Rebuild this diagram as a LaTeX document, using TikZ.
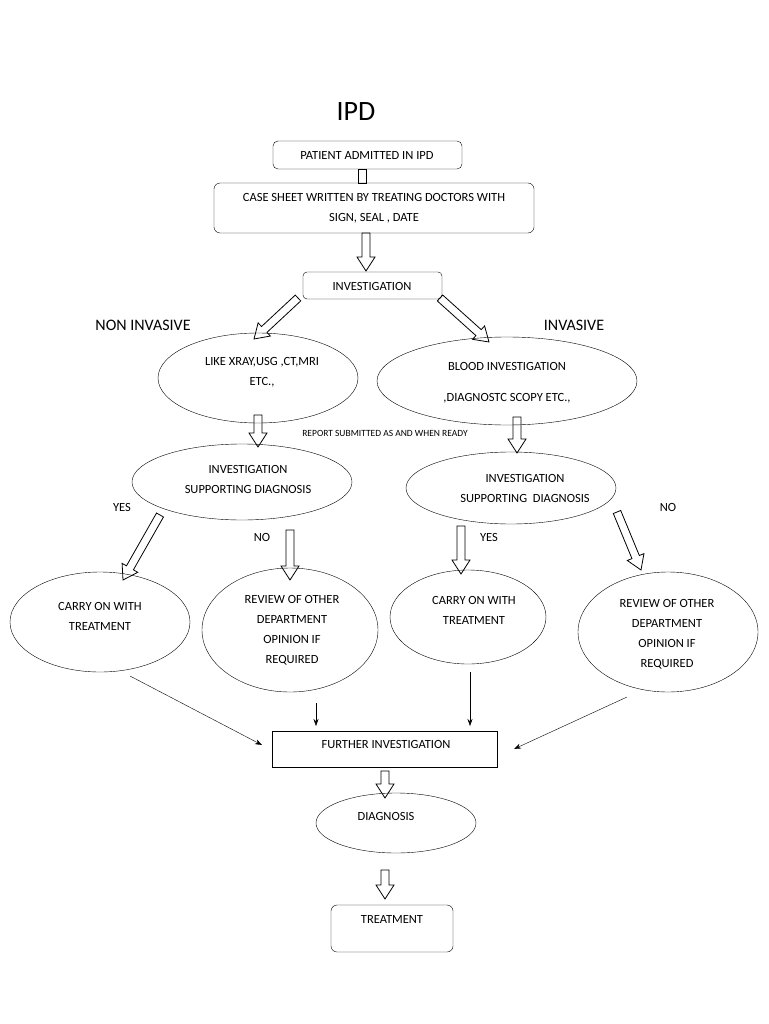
\documentclass[tikz,border=0pt]{standalone}
\usepackage{fontspec}
\setmainfont{Carlito}
\usetikzlibrary{calc,arrows.meta}
\begin{document}
\begin{tikzpicture}[x=1pt,y=-1pt,
  every node/.style={font=\fontsize{12.5}{20}\selectfont,align=center},
  thin arr/.style={-{Stealth[length=7pt,width=5pt]}}]
\useasboundingbox (0,0) rectangle (768,1024);
\newcommand\harrow[2]{\draw[line width=0.8pt] let \p1=#1, \p2=#2, \n1={atan2(\y2-\y1,\x2-\x1)}, \n2={veclen(\x2-\x1,\y2-\y1)} in [shift={(\p1)}, rotate=\n1] (0pt,-4pt) -- (\n2-14pt,-4pt) -- (\n2-14pt,-9pt) -- (\n2,0pt) -- (\n2-14pt,9pt) -- (\n2-14pt,4pt) -- (0pt,4pt) -- cycle;}
\node[font=\fontsize{28}{30}\selectfont] (title) at (356,112) {IPD};
\draw[rounded corners=5pt] (273,141) rectangle (462,169);
\node (b1) at (367,155) {PATIENT ADMITTED IN IPD};
\draw (358,169) rectangle (366,183);
\draw[rounded corners=6pt] (214,183) rectangle (534,233);
\node (b2) at (374,208) {CASE SHEET WRITTEN BY TREATING DOCTORS WITH\\SIGN, SEAL , DATE};
\harrow{(366,233)}{(366,271)}
\draw[rounded corners=4pt] (303,272) rectangle (442,299);
\node (b3) at (372,286) {INVESTIGATION};
\harrow{(298,298)}{(254,339)}
\harrow{(440,298)}{(489,342)}
\node[font=\fontsize{16}{18}\selectfont] (ni) at (143,325) {NON INVASIVE};
\node[font=\fontsize{16}{18}\selectfont] (inv) at (574,325) {INVASIVE};
\draw (258,378) ellipse [x radius=100, y radius=45];
\node (l1) at (262,372) {LIKE XRAY,USG ,CT,MRI\\ETC.,};
\draw (507,381) ellipse [x radius=130, y radius=44];
\node (r1) at (507,366) {BLOOD INVESTIGATION};
\node (r1b) at (507,398) {,DIAGNOSTC SCOPY ETC.,};
\harrow{(258,415)}{(258,447)}
\node[font=\fontsize{9.5}{10}\selectfont] (rep) at (385,433) {REPORT SUBMITTED AS AND WHEN READY};
\harrow{(517,417)}{(517,453)}
\draw (242,482) ellipse [x radius=110, y radius=38];
\node (l2) at (248,479) {INVESTIGATION\\SUPPORTING DIAGNOSIS};
\draw (511,488) ellipse [x radius=105, y radius=36];
\node (r2) at (525,488) {INVESTIGATION\\SUPPORTING\ \ DIAGNOSIS};
\node (y1) at (122,507) {YES};
\harrow{(160,515)}{(123,580)}
\node (n1) at (262,537) {NO};
\harrow{(290,530)}{(290,580)}
\node (y2) at (489,537) {YES};
\harrow{(461,526)}{(461,574)}
\node (n2) at (668,507) {NO};
\harrow{(617,512)}{(641,570)}
\draw (100,622) ellipse [x radius=90, y radius=50];
\node (c1) at (100,616) {CARRY ON WITH\\TREATMENT};
\draw (290,630) ellipse [x radius=88, y radius=62];
\node (c2) at (292,630) {REVIEW OF OTHER\\DEPARTMENT\\OPINION IF\\REQUIRED};
\draw (468,617) ellipse [x radius=78, y radius=47];
\node (c3) at (474,610) {CARRY ON WITH\\TREATMENT};
\draw (668,632) ellipse [x radius=90, y radius=60];
\node (c4) at (667,634) {REVIEW OF OTHER\\DEPARTMENT\\OPINION IF\\REQUIRED};
\draw (272,731) rectangle (497,767);
\node (fi) at (386,744) {FURTHER INVESTIGATION};
\coordinate (s1) at (130,676); \coordinate (e1) at (262,745);
\coordinate (s2) at (316,703); \coordinate (e2) at (316,726);
\coordinate (s3) at (470,672); \coordinate (e3) at (470,726);
\coordinate (s4) at (627,697); \coordinate (e4) at (514,749);
\draw[thin arr] (s1) -- (e1);
\draw[thin arr] (s2) -- (e2);
\draw[thin arr] (s3) -- (e3);
\draw[thin arr] (s4) -- (e4);
\harrow{(385,771)}{(385,798)}
\draw (396,823) ellipse [x radius=80, y radius=30];
\node (dg) at (386,816) {DIAGNOSIS};
\harrow{(385,870)}{(385,899)}
\draw[rounded corners=6pt] (331,905) rectangle (453,952);
\node (tr) at (392,919) {TREATMENT};
\end{tikzpicture}
\end{document}
